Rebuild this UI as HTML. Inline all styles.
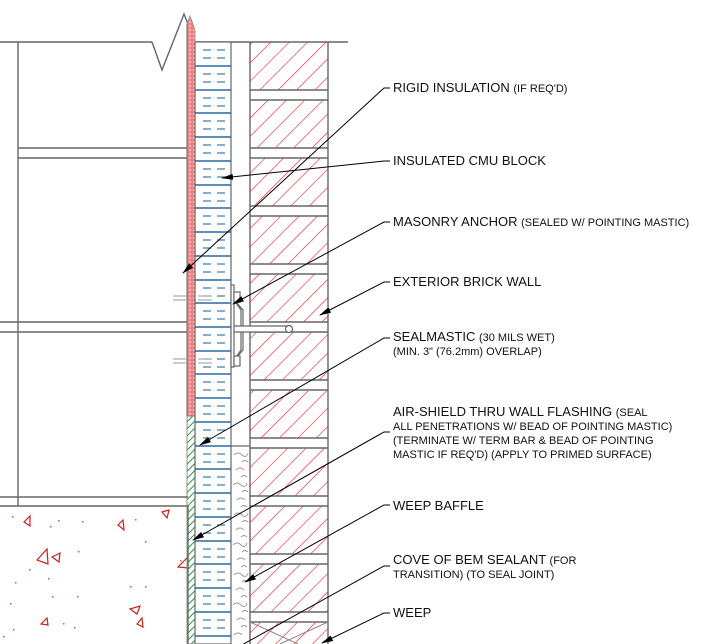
<!DOCTYPE html>
<html><head><meta charset="utf-8"><style>
html,body{margin:0;padding:0;background:#fff;}
svg{display:block;}
text{font-family:"Liberation Sans",Arial,sans-serif;fill:#111;}
.b{font-size:13px;}
.s{font-size:11px;}
</style></head><body>
<svg width="721" height="644" viewBox="0 0 721 644" xmlns="http://www.w3.org/2000/svg">
<defs>
<pattern id="hatch" width="13" height="13" patternUnits="userSpaceOnUse" patternTransform="rotate(45)">
<line x1="0" y1="0" x2="0" y2="13" stroke="#e02020" stroke-width="1.2"/>
</pattern>
<pattern id="green" width="5" height="5" patternUnits="userSpaceOnUse" patternTransform="rotate(45)">
<line x1="0" y1="0" x2="0" y2="5" stroke="#1f9a3a" stroke-width="2"/>
</pattern>
<pattern id="pink" width="4" height="4" patternUnits="userSpaceOnUse">
<rect width="4" height="4" fill="#f08080"/>
<circle cx="2" cy="2" r="0.9" fill="#fde0e0"/>
</pattern>
<marker id="ar" markerWidth="12" markerHeight="6" refX="11" refY="3" orient="auto" markerUnits="userSpaceOnUse">
<path d="M0,0 L12,3 L0,6 Z" fill="#000"/>
</marker>
</defs>

<g stroke="#666" stroke-width="1.4" fill="none">
<line x1="0" y1="42" x2="152" y2="42"/>
<polyline points="152,42 162,70 184,14 195,42"/>
<line x1="195" y1="42" x2="348" y2="42"/>
<line x1="18" y1="42" x2="18" y2="506"/>
<line x1="18" y1="148" x2="188" y2="148"/><line x1="18" y1="158" x2="188" y2="158"/>
<line x1="0" y1="322" x2="188" y2="322"/><line x1="0" y1="332" x2="188" y2="332"/>
<line x1="0" y1="497" x2="188" y2="497"/><line x1="0" y1="506" x2="188" y2="506"/>
</g>

<g fill="none" stroke="#c82020" stroke-width="1.2">
<polygon points="24,522 30,516 30,526"/><polygon points="37,560 47,549 48,564"/>
<polygon points="52,557 60,553 59,562"/><polygon points="118,525 123,520 124,530"/>
<polygon points="162,512 169,510 167,518"/><polygon points="178,567 188,557 188,568"/>
<polygon points="130,609 140,606 137,614"/><polygon points="137,624 142,618 143,627"/>
<polygon points="41,624 47,618 48,625"/>
</g>
<g fill="#d45050">
<rect x="12" y="516" width="1.5" height="1.5"/><rect x="58" y="520" width="1.5" height="1.5"/>
<rect x="82" y="521" width="1.5" height="1.5"/><rect x="50" y="526" width="1.5" height="1.5"/>
<rect x="78" y="551" width="1.5" height="1.5"/><rect x="29" y="569" width="1.5" height="1.5"/>
<rect x="48" y="578" width="1.5" height="1.5"/><rect x="15" y="582" width="1.5" height="1.5"/>
<rect x="52" y="596" width="1.5" height="1.5"/><rect x="77" y="596" width="1.5" height="1.5"/>
<rect x="130" y="586" width="1.5" height="1.5"/><rect x="145" y="586" width="1.5" height="1.5"/>
<rect x="10" y="603" width="1.5" height="1.5"/><rect x="63" y="623" width="1.5" height="1.5"/>
<rect x="74" y="627" width="1.5" height="1.5"/><rect x="13" y="629" width="1.5" height="1.5"/>
<rect x="3" y="636" width="1.5" height="1.5"/><rect x="180" y="560" width="1.5" height="1.5"/>
<rect x="135" y="519" width="1.5" height="1.5"/><rect x="145" y="541" width="1.5" height="1.5"/>
</g>
<line x1="188" y1="506" x2="188" y2="644" stroke="#666" stroke-width="1.4"/>

<path d="M187,24 L190,16 L195,30 L195,397 L203,413 L203,447 L197,462 L195,462 L195,416 L187,416 Z" fill="url(#pink)" stroke="#888" stroke-width="0.8"/>
<line x1="187" y1="24" x2="187" y2="416" stroke="#777" stroke-width="1.2"/>
<rect x="187" y="416" width="8" height="228" fill="url(#green)" stroke="#777" stroke-width="0.8"/>

<rect x="195" y="42" width="36" height="602" fill="#fff" stroke="#666" stroke-width="1.2"/>
<g stroke="#2a6aa0" stroke-width="1.4" fill="none">
<path d="M195,66H231M195,90H231M195,113H231M195,137H231M195,161H231M195,185H231M195,208H231M195,232H231M195,256H231M195,280H231M195,303H231M195,327H231M195,351H231M195,374H231M195,398H231M195,422H231M195,446H231M195,469H231M195,493H231M195,517H231M195,541H231M195,564H231M195,588H231M195,612H231M195,636H231"/>
</g>
<g stroke="#3f80b4" stroke-width="1.3" stroke-dasharray="8,6">
<path d="M203,50H225M203,58H225M203,74H225M203,82H225M203,98H225M203,106H225M203,121H225M203,129H225M203,145H225M203,153H225M203,169H225M203,177H225M203,193H225M203,201H225M203,216H225M203,224H225M203,240H225M203,248H225M203,264H225M203,272H225M203,288H225M203,296H225M203,311H225M203,319H225M203,335H225M203,343H225M203,359H225M203,367H225M203,382H225M203,390H225M203,406H225M203,414H225M203,430H225M203,438H225M203,454H225M203,462H225M203,477H225M203,485H225M203,501H225M203,509H225M203,525H225M203,533H225M203,549H225M203,557H225M203,572H225M203,580H225M203,596H225M203,604H225M203,620H225M203,628H225"/>
</g>

<line x1="250" y1="42" x2="250" y2="644" stroke="#666" stroke-width="1.4"/>
<line x1="231" y1="446" x2="250" y2="446" stroke="#666" stroke-width="1.2"/>
<g stroke="#999" stroke-width="0.9" fill="none">
<path d="M234,455q4,-4 8,0q4,4 6,-2M236,470q4,-4 8,0M233,485q4,-4 8,0q4,4 6,-2M237,500q4,-4 8,0M234,515q4,-4 8,0q4,4 6,-2M236,530q4,-4 8,0M233,545q4,-4 8,0q4,4 6,-2M237,560q4,-4 8,0M234,575q4,-4 8,0q4,4 6,-2M236,590q4,-4 8,0M233,605q4,-4 8,0q4,4 6,-2M237,620q4,-4 8,0M234,635q4,-4 8,0"/>
<path d="M242,462q3,-3 6,0M241,477q3,-3 6,0M242,492q3,-3 6,0M241,507q3,-3 6,0M242,522q3,-3 6,0M241,537q3,-3 6,0M242,552q3,-3 6,0M241,567q3,-3 6,0M242,582q3,-3 6,0M241,597q3,-3 6,0M242,612q3,-3 6,0M241,627q3,-3 6,0"/>
</g>

<g>
<rect x="250" y="42" width="78" height="48" fill="url(#hatch)"/>
<rect x="250" y="100" width="78" height="48" fill="url(#hatch)"/>
<rect x="250" y="158" width="78" height="48" fill="url(#hatch)"/>
<rect x="250" y="216" width="78" height="48" fill="url(#hatch)"/>
<rect x="250" y="274" width="78" height="48" fill="url(#hatch)"/>
<rect x="250" y="332" width="78" height="48" fill="url(#hatch)"/>
<rect x="250" y="390" width="78" height="48" fill="url(#hatch)"/>
<rect x="250" y="448" width="78" height="48" fill="url(#hatch)"/>
<rect x="250" y="506" width="78" height="48" fill="url(#hatch)"/>
<rect x="250" y="564" width="78" height="48" fill="url(#hatch)"/>
<rect x="250" y="622" width="78" height="22" fill="url(#hatch)"/>
</g>
<g stroke="#666" stroke-width="1.4" fill="none">
<path d="M250,90H328M250,100H328M250,148H328M250,158H328M250,206H328M250,216H328M250,264H328M250,274H328M250,322H328M250,332H328M250,380H328M250,390H328M250,438H328M250,448H328M250,496H328M250,506H328M250,554H328M250,564H328M250,612H328M250,622H328"/>
<line x1="328" y1="42" x2="328" y2="644"/>
<path d="M250,622L298,644M328,622L280,644" stroke="#888" stroke-width="1"/>
</g>

<g stroke="#666" stroke-width="1.2" fill="#fff">
<rect x="231" y="285" width="3" height="82"/>
<path d="M234,300L241,310L241,350L234,360" fill="none"/>
<path d="M236,302L243,310L243,350L236,358" fill="none"/>
<rect x="234" y="292" width="6" height="10"/><rect x="234" y="356" width="6" height="10"/>
<rect x="234" y="326" width="54" height="6" rx="1"/>
<circle cx="289" cy="329" r="3.5"/>
</g>
<g stroke="#bbb" stroke-width="1.5" fill="none">
<path d="M173,296H186M173,300H186M198,296H212M198,300H212"/>
<path d="M173,359H186M173,363H186M198,359H212M198,363H212"/>
</g>

<g stroke="#000" stroke-width="1" fill="none">
<path d="M390,88H384L183,273" marker-end="url(#ar)"/>
<path d="M390,161H384L222,178" marker-end="url(#ar)"/>
<path d="M390,222H384L233,304" marker-end="url(#ar)"/>
<path d="M390,282H384L320,315" marker-end="url(#ar)"/>
<path d="M390,338H384L200,445" marker-end="url(#ar)"/>
<path d="M390,432H384L193,540" marker-end="url(#ar)"/>
<path d="M390,505H384L245,582" marker-end="url(#ar)"/>
<path d="M390,566H384L240,646"/>
<path d="M390,613H384L322,643" marker-end="url(#ar)"/>
</g>

<text x="393" y="92" class="b">RIGID INSULATION <tspan class="s">(IF REQ'D)</tspan></text>
<text x="393" y="165" class="b">INSULATED CMU BLOCK</text>
<text x="393" y="226" class="b">MASONRY ANCHOR <tspan class="s">(SEALED W/ POINTING MASTIC)</tspan></text>
<text x="393" y="286" class="b">EXTERIOR BRICK WALL</text>
<text x="393" y="341" class="b">SEALMASTIC <tspan class="s">(30 MILS WET)</tspan></text>
<text x="393" y="355" class="s">(MIN. 3" (76.2mm) OVERLAP)</text>
<text x="393" y="416" class="b">AIR-SHIELD THRU WALL FLASHING <tspan class="s">(SEAL</tspan></text>
<text x="393" y="430" class="s">ALL PENETRATIONS W/ BEAD OF POINTING MASTIC)</text>
<text x="393" y="444" class="s">(TERMINATE W/ TERM BAR &amp; BEAD OF POINTING</text>
<text x="393" y="458" class="s">MASTIC IF REQ'D) (APPLY TO PRIMED SURFACE)</text>
<text x="393" y="510" class="b">WEEP BAFFLE</text>
<text x="393" y="564" class="b">COVE OF BEM SEALANT <tspan class="s">(FOR</tspan></text>
<text x="393" y="578" class="s">TRANSITION) (TO SEAL JOINT)</text>
<text x="393" y="617" class="b">WEEP</text>
</svg>
</body></html>
